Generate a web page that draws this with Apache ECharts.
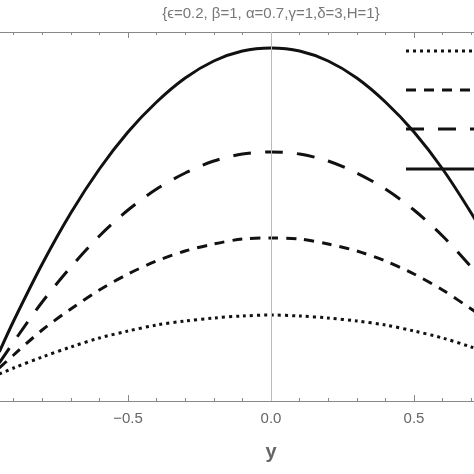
<!DOCTYPE html><html><head><meta charset="utf-8"><script src="https://cdn.jsdelivr.net/npm/echarts@6/dist/echarts.min.js"></script></head><body style="margin:0"><div id="c" style="width:474px;height:474px"></div><script>
const xs=[-0.95,-0.9,-0.8,-0.7,-0.6,-0.5,-0.4,-0.3,-0.2,-0.1,0,0.1,0.2,0.3,0.4,0.5,0.6,0.7,0.75];
const solid=[49,80,137,188,232,269,299,323,340,350,353,350,340,323,299,269,232,188,163];
const longDash=[38,59,99,134,165,191,212,228,240,247,249,247,240,228,212,191,165,134,117];
const shortDash=[33,46,71,92,111,127,140,150,157,162,163,162,157,150,140,127,111,92,82];
const dotted=[27,33,44,54,63,70,76,80,83,85,86,85,83,80,76,70,63,54,49];
const title='{ϵ=0.2, β=1, α=0.7,γ=1,δ=3,H=1}';
const pair=a=>xs.map((x,i)=>[x,a[i]]);
const ax={type:'value',min:-1,max:1,interval:0.5,axisLine:{lineStyle:{color:'#888'}},
 axisTick:{inside:true,length:6,lineStyle:{color:'#888'}},minorTick:{show:true,splitNumber:5,length:3,lineStyle:{color:'#888'}},
 splitLine:{show:false},axisLabel:{color:'#666',fontSize:15,fontFamily:'Liberation Sans',margin:10,formatter:v=>(v<0?'−':'')+Math.abs(v).toFixed(1)}};
const s=(d,dash)=>({type:'line',data:pair(d),smooth:0.3,symbol:'none',lineStyle:{color:'#111',width:3,type:dash}});
const c=echarts.init(document.getElementById('c'));
const series=[s(solid,'solid'),s(longDash,[18,14]),s(shortDash,[10,8]),s(dotted,[3,4])];
series[0].markLine={silent:true,symbol:'none',label:{show:false},lineStyle:{color:'#bbb',width:1,type:'solid'},data:[{xAxis:0}]};
const lg=(y,dash)=>({type:'line',shape:{x1:406,y1:y,x2:474,y2:y},style:{stroke:'#111',lineWidth:3,lineDash:dash}});
c.setOption({animation:false,
 grid:{left:-15,right:-83,top:32,bottom:73,outerBoundsMode:'none',containLabel:false},
 xAxis:[ax,Object.assign({},ax,{position:'top',axisLabel:{show:false}})],
 yAxis:{type:'value',min:0,max:369,show:false},
 series,
 graphic:[
  {type:'text',style:{x:271,y:14,text:title,fill:'#777',font:'15px Liberation Sans',textAlign:'center',textVerticalAlign:'middle'}},
  {type:'text',style:{x:271,y:452,text:'y',fill:'#666',font:'bold 20px Liberation Sans',textAlign:'center',textVerticalAlign:'middle'}},
  lg(51,[3,4]),lg(90,[10,8]),lg(129,[18,14]),lg(169,null)
 ]});
</script></body></html>
